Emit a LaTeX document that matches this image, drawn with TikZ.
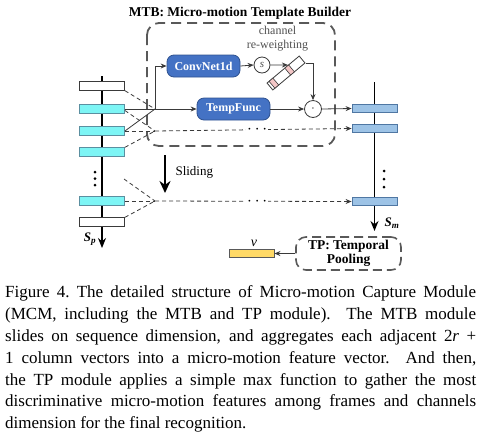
\documentclass[tikz,border=0pt]{standalone}
\usepackage{fontspec}
\setmainfont{Liberation Serif}
\usetikzlibrary{arrows.meta,calc}
\definecolor{lc}{HTML}{3A3A3A}
\definecolor{boxgray}{HTML}{595959}
\definecolor{cyanfill}{RGB}{125,245,245}
\definecolor{cyanedge}{HTML}{5B8FA0}
\definecolor{bluefill}{HTML}{9DC3E6}
\definecolor{blueedge}{HTML}{4F77A3}
\definecolor{nodefill}{HTML}{4472C4}
\definecolor{nodeedge}{HTML}{2F528F}
\definecolor{yellowfill}{HTML}{FFD966}
\definecolor{pinkfill}{HTML}{F4C7C7}
\definecolor{txtgray}{HTML}{505050}
\newcommand\capline[1]{\hbox to 471pt{#1}}
\begin{document}
\begin{tikzpicture}[x=1pt,y=-1pt,
  vec/.style={draw=#1, line width=0.8pt, minimum width=45pt, minimum height=8.5pt, inner sep=0pt},
  whitevec/.style={vec=lc, fill=white},
  cyanvec/.style={vec=cyanedge, fill=cyanfill},
  bluevec/.style={vec=blueedge, fill=bluefill},
  yellowvec/.style={vec=boxgray, fill=yellowfill},
  opnode/.style={draw=nodeedge, fill=nodefill, line width=0.8pt, rounded corners=7pt, minimum width=73pt, minimum height=22pt, inner sep=0pt, text=white, font=\fontsize{12}{14}\selectfont\bfseries},
  circ/.style={draw=lc, fill=white, circle, line width=0.8pt, minimum size=16pt, inner sep=0pt},
  conn/.style={draw=lc, line width=0.8pt},
  dconn/.style={draw=lc, line width=0.8pt, dash pattern=on 4pt off 3pt},
  arr/.style={-{Stealth[length=6pt,width=5pt]}},
  bigarr/.style={-{Stealth[length=10pt,width=8pt]}, line width=1.4pt, draw=black},
  frame/.style={draw=boxgray, line width=1.8pt, dash pattern=on 10pt off 6pt, rounded corners=12pt},
  dotmark/.style={circle, fill=black, inner sep=0pt, minimum size=3pt},
  ellip/.style={fill=white, inner sep=1pt, font=\fontsize{16}{16}\selectfont},
]
\useasboundingbox (0,0) rectangle (481,432);

% MTB frame
\draw[frame] (147,23) rectangle (335,146);
\node[anchor=base, font=\fontsize{13.5}{14}\selectfont\bfseries] (mtbtitle) at (240,16) {MTB: Micro-motion Template Builder};

% left column
\coordinate (ltop) at (102,76);
\coordinate (lbot) at (102,248);
\draw[bigarr] (ltop) -- (lbot);
\node[whitevec] (lb1) at (102,86) {};
\node[cyanvec] (lb2) at (102,109) {};
\node[cyanvec] (lb3) at (102,131) {};
\node[cyanvec] (lb4) at (102,152) {};
\node[cyanvec] (lb5) at (102,201) {};
\node[whitevec] (lb6) at (102,222) {};
\node[dotmark] (ld1) at (95,172) {};
\node[dotmark] (ld2) at (95,178.5) {};
\node[dotmark] (ld3) at (95,185) {};
\node[font=\fontsize{13}{13}\selectfont\bfseries\itshape] (sp) at (90,239) {S\textsubscript{p}};

% convergence points
\coordinate (c1) at (155,109);
\coordinate (c2) at (155,131);
\coordinate (c3) at (155,201);
\coordinate (d3) at (124,179);

% group 1
\draw[dconn] (lb1.south east) -- (c1);
\draw[conn] (lb3.east) -- (c1);

% ops
\node[opnode] (conv) at (203.5,66) {ConvNet1d};
\node[opnode] (temp) at (233.5,109) {TempFunc};
\node[circ, font=\fontsize{11}{11}\selectfont\itshape, text=txtgray] (s) at (262,65) {s};
\node[circ, minimum size=17pt, font=\fontsize{12}{12}\selectfont\bfseries] (dot) at (313,109) {$\cdot$};

\draw[conn, arr] (lb2.east) -- (temp.west);
\draw[conn, arr] (c1) |- (conv.west);
\draw[conn, arr] (conv.east) -- (s.west);

% channel re-weighting bar
\node[draw=lc, fill=white, line width=0.8pt, minimum width=42pt, minimum height=9pt, inner sep=0pt, rotate=40] (bar) at (286,73) {};
\node[draw=lc, fill=pinkfill, line width=0.6pt, minimum width=5pt, minimum height=9pt, inner sep=0pt, rotate=40] (pk1) at ($(bar.center)!0.22!(bar.east)$) {};
\node[draw=lc, fill=pinkfill, line width=0.6pt, minimum width=5pt, minimum height=9pt, inner sep=0pt, rotate=40] (pk2) at ($(bar.center)!0.74!(bar.west)$) {};
\coordinate (sfar) at ($(s.east)+(60,0)$);
\coordinate (hit) at (intersection of bar.north west--bar.north east and s.east--sfar);
\draw[conn, arr] (s.east) -- (hit);
\node[align=center, text=txtgray, font=\fontsize{12}{14}\selectfont] (cw) at (277.5,39) {channel\\re-weighting};
\draw[conn, arr] (bar.south east) -| (dot.north);
\draw[conn, arr] (temp.east) -- (dot.west);

% right column
\coordinate (rtop) at (374.5,82);
\coordinate (rbot) at (374.5,231);
\draw[bigarr] (rtop) -- (rbot);
\node[bluevec] (rb1) at (374.5,108.5) {};
\node[bluevec] (rb2) at (374.5,128.5) {};
\node[bluevec] (rb3) at (374.5,201.5) {};
\node[dotmark] (rd1) at (384,171) {};
\node[dotmark] (rd2) at (384,179) {};
\node[dotmark] (rd3) at (384,187) {};
\node[font=\fontsize{13}{13}\selectfont\bfseries\itshape] (sm) at (392,223) {S\textsubscript{m}};

\draw[conn, arr] (dot.east) -- (rb1.west);

% group 2
\draw[dconn] ([yshift=-1.5pt]lb2.east) -- (c2);
\draw[dconn] (lb3.east) -- (c2);
\draw[dconn] (lb4.north east) -- (c2);
\draw[dconn, arr] (c2) -- (rb2.west) node[ellip, pos=0.52] (el2) {$\cdots$};

% group 3
\draw[dconn] (d3) -- (c3);
\draw[dconn] (lb5.east) -- (c3);
\draw[dconn] (lb6.north east) -- (c3);
\draw[dconn, arr] (c3) -- (rb3.west) node[ellip, pos=0.52] (el3) {$\cdots$};

% sliding
\coordinate (sl1) at (165,155);
\coordinate (sl2) at (165,193);
\draw[-{Stealth[length=12pt,width=11pt]}, line width=2.6pt] (sl1) -- (sl2);
\node[anchor=base west, font=\fontsize{13}{13}\selectfont] (sliding) at (172,175) {Sliding};

% TP
\node[draw=boxgray, line width=1.6pt, dash pattern=on 9pt off 5pt, rounded corners=10pt, minimum width=105pt, minimum height=33pt, align=center, inner sep=0pt, font=\fontsize{13.5}{14}\selectfont\bfseries] (tp) at (348.5,253.5) {TP: Temporal\\Pooling};
\node[yellowvec] (vv) at (251.5,253.5) {};
\node[font=\fontsize{14}{14}\selectfont\itshape] (vlab) at (254,243) {v};
\draw[conn, line width=1pt, arr] (tp.west) -- (vv.east);

% caption
\node[anchor=north west, inner sep=0pt] (cap) at (5,285.3) {\vbox{\fontsize{17}{21.9}\selectfont
\capline{Figure 4.\ The detailed structure of Micro-motion Capture Module}
\capline{(MCM, including the MTB and TP module).\ \ The MTB module}
\capline{slides on sequence dimension, and aggregates each adjacent 2\textit{r} +}
\capline{1 column vectors into a micro-motion feature vector.\ \ And then,}
\capline{the TP module applies a simple max function to gather the most}
\capline{discriminative micro-motion features among frames and channels}
\hbox{dimension for the final recognition.}}};
\end{tikzpicture}
\end{document}
